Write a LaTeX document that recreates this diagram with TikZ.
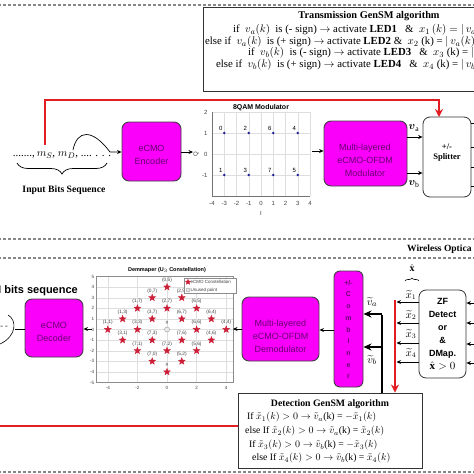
\documentclass[tikz,border=0pt]{standalone}
\usepackage{fontspec}
\setmainfont{Liberation Serif}
\newfontfamily\arial{Liberation Sans}
\usepackage{amsmath}
\usetikzlibrary{arrows.meta,decorations.pathreplacing,shapes.geometric}
\definecolor{mag}{RGB}{250,0,250}
\definecolor{magtxt}{RGB}{105,0,115}
\definecolor{redl}{RGB}{225,30,35}
\definecolor{dashg}{RGB}{135,135,135}
\definecolor{starred}{RGB}{205,30,55}
\definecolor{dotblue}{RGB}{30,30,150}
\definecolor{gridg}{RGB}{222,222,222}
\begin{document}
\begin{tikzpicture}[x=1pt,y=-1pt,
  magbox/.style={draw=black!75,line width=0.9pt,fill=mag,rounded corners=7pt,inner sep=0pt},
  whitebox/.style={draw=black!80,line width=0.8pt,fill=white,rounded corners=7pt,inner sep=0pt},
  plainbox/.style={draw=black!80,line width=0.9pt,fill=white,inner sep=0pt},
  magtext/.style={text=magtxt,font=\arial\fontsize{9}{13}\selectfont,align=center,inner sep=0pt},
  sepline/.style={draw=dashg,line width=1.5pt,dash pattern=on 3pt off 2pt},
  arr/.style={-{Stealth[length=4.5pt,width=4pt]},line width=0.7pt},
  thickarr/.style={-{Stealth[length=8pt,width=7pt]},line width=2pt},
  redline/.style={draw=redl,line width=2.4pt},
  redarr/.style={redline,-{Stealth[length=8pt,width=8pt]}},
  algtext/.style={font=\fontsize{10.8}{12}\selectfont,anchor=west,inner sep=0pt},
  dettext/.style={font=\fontsize{9.8}{12}\selectfont,anchor=west,inner sep=0pt},
  tick/.style={font=\arial\fontsize{6}{7}\selectfont,inner sep=0pt,text=black!75},
  smalltick/.style={font=\arial\fontsize{4.6}{5}\selectfont,inner sep=0pt,text=black!75},
  ptlabel/.style={font=\arial\fontsize{4.8}{5}\selectfont,inner sep=0pt,text=black!75},
  redstar/.style={star,star points=5,star point ratio=2.4,fill=starred,draw=starred,minimum size=7pt,inner sep=0pt},
]
\useasboundingbox (0,0) rectangle (474,474);
\clip (0,0) rectangle (474,474);

% separators
\coordinate (s1l) at (-2,5);   \coordinate (s1r) at (476,5);
\coordinate (s2l) at (-2,239); \coordinate (s2r) at (476,239);
\coordinate (s3l) at (-2,258); \coordinate (s3r) at (476,258);
\coordinate (s4l) at (-2,472); \coordinate (s4r) at (476,472);
\draw[sepline] (s1l) -- (s1r);
\draw[sepline] (s2l) -- (s2r);
\draw[sepline] (s3l) -- (s3r);
\draw[sepline] (s4l) -- (s4r);
\node[font=\bfseries\fontsize{9.5}{11}\selectfont,anchor=west,inner sep=0pt] (wo) at (407,249) {Wireless Optica};

% ---------------- Transmission algorithm box
\node[plainbox,minimum width=277pt,minimum height=84pt] (tx) at (341.5,49) {};
\node[font=\bfseries\fontsize{10.3}{12}\selectfont,inner sep=0pt] (txt0) at (369,16) {Transmission GenSM algorithm};
\node[algtext] (txt1) at (233,30) {if~ $v_a(k)$ ~is (- sign) $\rightarrow$ activate \textbf{LED1} ~~\&~ $x_1\,(k) = |\,v_a(k)\,|$};
\node[algtext] (txt2) at (205,42) {else if~ $v_a(k)$ ~is (+ sign) $\rightarrow$ activate \textbf{LED2} \&~ $x_2$ (k) = $|\,v_a(k)\,|$};
\node[algtext] (txt3) at (248,53) {if~ $v_b(k)$ ~is (- sign) $\rightarrow$ activate \textbf{LED3} ~~\&~ $x_3$ (k) = $|\,v_b(k)\,|$};
\node[algtext] (txt4) at (216,65) {else if~ $v_b(k)$ ~is (+ sign) $\rightarrow$ activate \textbf{LED4} ~~\&~ $x_4$ (k) = $|\,v_b(k)\,|$};

% ---------------- input bits
\node[font=\fontsize{11}{13}\selectfont,inner sep=0pt] (bits) at (62,155) {.......,\,$m_S$, $m_D$, .... . . .};
\draw[decorate,decoration={brace,mirror,amplitude=11pt},line width=0.7pt] (17,163) -- (107,163);
\node[font=\bfseries\fontsize{9.7}{11}\selectfont,inner sep=0pt] (ibs) at (64,190) {Input Bits Sequence};

% ---------------- encoder
\node[magbox,minimum width=59pt,minimum height=59pt] (enc) at (151.5,151.5) {};
\node[magtext] (enct) at (151.5,155) {eCMO\\Encoder};
\coordinate (cstart) at (73,150);
\coordinate (cend) at (110,152);
\draw[arr] (cstart) .. controls (77,130) and (92,128) .. (cend) -- (cend -| enc.west);

% ---------------- 8QAM plot
\begin{scope}[shift={(261,154)},x=12.25pt,y=21pt]
  \foreach \u in {-4,...,4} \draw[gridg,line width=0.4pt] (\u,-2) -- (\u,2);
  \foreach \v in {-2,...,2} \draw[gridg,line width=0.4pt] (-4,\v) -- (4,\v);
  \draw[black!55,line width=0.5pt] (-4,2) -- (-4,-2) -- (4,-2);
  \foreach \u in {-4,...,4} \node[tick] at (\u,-2.35) {\u};
  \foreach \v in {-1,...,2} \node[tick,anchor=east] at (-4.35,\v) {\v};
  \node[tick,rotate=90] (qlab) at (-5.3,0) {Q};
  \node[tick] (ilab) at (0,-2.85) {I};
  \foreach \u/\v/\l in {-3/1/0,-1/1/2,1/1/6,3/1/4,-3/-1/1,-1/-1/3,1/-1/7,3/-1/5}{
    \fill[dotblue] (\u,\v) circle[radius=1.3pt];
    \node[tick,text=black] at ([xshift=-3.5pt,yshift=5pt]\u,\v) {\l};
  }
  \node[font=\arial\bfseries\fontsize{7}{8}\selectfont,inner sep=0pt] (qamt) at (0,2.2) {8QAM Modulator};
\end{scope}
\coordinate (qamin) at (193,152);
\draw[arr] (enc.east |- qamin) -- (qamin);
\coordinate (qamout) at (312,151);

% ---------------- modulator
\node[magbox,minimum width=83pt,minimum height=65pt] (mod) at (365.5,153.5) {};
\node[magtext] (modt) at (365,160) {Multi-layered\\eCMO-OFDM\\Modulator};
\draw[arr] (qamout) -- (qamout -| mod.west);

% ---------------- splitter
\node[whitebox,minimum width=48pt,minimum height=80pt] (split) at (447,157) {};
\node[font=\bfseries\fontsize{8.5}{10}\selectfont,align=center,inner sep=0pt] (splitt) at (447,153) {+/-\\Splitter};
\coordinate (vay) at (415,137);
\coordinate (vby) at (415,173);
\draw[arr] (mod.east |- vay) -- (vay -| split.west);
\draw[arr] (mod.east |- vby) -- (vby -| split.west);
\node[inner sep=0pt,font=\fontsize{11}{12}\selectfont] (val) at (414,128) {$\boldsymbol{v}_{\mathrm{a}}$};
\node[inner sep=0pt,font=\fontsize{11}{12}\selectfont] (vbl) at (414,184) {$\boldsymbol{v}_{\mathrm{b}}$};
\foreach \yy in {123,147,167,186}{
  \coordinate (so) at (476,\yy);
  \draw[line width=0.7pt] (so -| split.east) -- (so);
}

% red feedback top
\coordinate (redstart) at (45,145);
\coordinate (redcorner) at (439,100);
\coordinate (redin) at (439,117);
\draw[redarr] (redstart) |- (redcorner) -- (redin);

% ---------------- bottom section
\node[font=\arial\bfseries\fontsize{11}{12}\selectfont,anchor=east,inner sep=0pt] (bseq) at (78,291) {M bits sequence};

\node[magbox,minimum width=58pt,minimum height=58pt] (dec) at (54,328) {};
\node[magtext] (dect) at (54,332) {eCMO\\Decoder};
\coordinate (decl) at (15,329);
\draw[line width=0.6pt] (8,315) .. controls (17,320) and (17,336) .. (0,344);
\node[inner sep=0pt,font=\fontsize{8}{9}\selectfont] (dd) at (4,327) {- -};
\draw[line width=0.6pt] (decl) -- (decl -| dec.west);

% ---------------- Demapper plot
\begin{scope}[shift={(167,329.5)},x=14.8pt,y=10.6pt]
  \fill[white] (-4.75,-5) rectangle (4.5,5);
  \foreach \u in {-4,-2,0,2,4} \draw[gridg,line width=0.4pt] (\u,-5) -- (\u,5);
  \foreach \v in {-5,...,5} \draw[gridg,line width=0.4pt] (-4.75,\v) -- (4.5,\v);
  \draw[black!45,line width=0.5pt] (-4.75,-5) rectangle (4.5,5);
  \foreach \u in {-4,-2,0,2,4} \node[smalltick] at (\u,-5.55) {\u};
  \foreach \v in {-5,...,5} \node[smalltick,anchor=east] at (-4.9,\v) {\v};
  \node[font=\arial\bfseries\fontsize{5.5}{6}\selectfont,inner sep=0pt] (dmt) at (0,5.6) {Demmaper (U$_{3}$ Constellation)};
  \foreach \u/\v/\l in {0/4/{(0,5)},-1/3/{(0,7)},1/3/{(2,5)},-2/2/{(1,7)},0/2/{(2,7)},2/2/{(6,5)},
     -3/1/{(1,3)},-1/1/{(3,7)},1/1/{(6,7)},3/1/{(6,4)},-4/0/{(1,1)},-2/0/{(3,3)},2/0/{(6,6)},4/0/{(4,4)},
     -3/-1/{(3,1)},-1/-1/{(7,3)},1/-1/{(7,6)},3/-1/{(4,6)},-2/-2/{(7,1)},0/-2/{(7,2)},2/-2/{(5,6)},
     -1/-3/{(7,0)},1/-3/{(5,2)},0/-4/{\#}}{
    \node[redstar] at (\u,\v) {};
    \node[ptlabel] at ([yshift=6.9pt]\u,\v) {\l};
  }
  \draw[black!40,line width=0.4pt,fill=gridg!60] (0,0) circle[radius=2.5pt];
  \node[ptlabel] at ([yshift=6.7pt]0,0) {\#};
\end{scope}
% legend
\node[draw=black!45,line width=0.4pt,fill=white,minimum width=52pt,minimum height=15pt,inner sep=0pt] (leg) at (210,286) {};
\node[redstar,minimum size=5.5pt] (legs) at (188,282) {};
\node[ptlabel,font=\arial\fontsize{4.5}{5}\selectfont,anchor=west] (legt1) at (190.5,282) {eCMO Constellation};
\draw[black!40,line width=0.4pt,fill=gridg!60] (188,290) circle[radius=2pt];
\node[ptlabel,font=\arial\fontsize{4.5}{5}\selectfont,anchor=west] (legt2) at (190.5,290) {Unused point};

\coordinate (dmpr) at (233,329);
\coordinate (dmpl) at (92,329);
\draw[arr] (dmpl) -- (dmpl -| dec.east);

% ---------------- demodulator
\node[magbox,minimum width=77pt,minimum height=64pt] (demod) at (280.5,329) {};
\node[magtext] (demodt) at (280.5,336) {Multi-layered\\eCMO-OFDM\\Demodulator};
\draw[arr] (demod.west) -- (dmpr);

% ---------------- combiner
\node[magbox,minimum width=29pt,minimum height=116pt,rounded corners=6pt] (comb) at (348.5,329) {};
\node[text=magtxt,font=\arial\bfseries\fontsize{7}{11.7}\selectfont,align=center,inner sep=0pt] (combt) at (348.5,329.5) {+/-\\C\\o\\m\\b\\i\\n\\e\\r};
\coordinate (cd) at (334,330);
\draw[arr] (cd) -- (cd -| demod.east);

% ---------------- detection box
\node[plainbox,minimum width=184pt,minimum height=75pt] (det) at (330,430.5) {};
\node[font=\bfseries\fontsize{9.8}{11}\selectfont,inner sep=0pt] (dett) at (330,404) {Detection GenSM algorithm};
\node[dettext] (det1) at (247,417) {If $\tilde{x}_1(k) > 0 \rightarrow \tilde{v}_a$(k) = $-\tilde{x}_1(k)$};
\node[dettext] (det2) at (245,431) {else If $\tilde{x}_2(k) > 0 \rightarrow \tilde{v}_a$(k) = $\tilde{x}_2(k)$};
\node[dettext] (det3) at (249,445) {If $\tilde{x}_3(k) > 0 \rightarrow \tilde{v}_b$(k) = $-\tilde{x}_3(k)$};
\node[dettext] (det4) at (252,458) {else If $\tilde{x}_4(k) > 0 \rightarrow \tilde{v}_b$(k) = $\tilde{x}_4(k)$};

\coordinate (redleft) at (-2,426);
\draw[redline] (redleft) -- (redleft -| det.west);

% black thick combiner inputs
\coordinate (btop) at (382,314);
\coordinate (bmid) at (382,347);
\draw[line width=2.2pt] (btop |- det.north) -- ([yshift=-1.1pt]btop);
\draw[thickarr] (btop) -- (btop -| comb.east);
\draw[thickarr] (bmid) -- (bmid -| comb.east);
\node[inner sep=0pt,font=\fontsize{11}{12}\selectfont] (vtal) at (372,302) {$\widetilde{v}_a$};
\node[inner sep=0pt,font=\fontsize{11}{12}\selectfont] (vtbl) at (372,360) {$\widetilde{v}_b$};

% ---------------- ZF box
\node[whitebox,minimum width=47pt,minimum height=88pt] (zf) at (442.5,334) {};
\node[font=\arial\bfseries\fontsize{9}{13}\selectfont,align=center,inner sep=0pt] (zft) at (442.5,334.5) {ZF\\Detect\\or\\\&\\DMap.\\\textnormal{\fontsize{11}{13}\selectfont$\hat{\mathbf{x}} > 0$}};

\coordinate (rtop) at (395,300);
\draw[redarr] (rtop) -- (rtop |- det.north);
\foreach \yy/\i/\ly in {302/1/295,323/2/315,343/3/334,362/4/353}{
  \coordinate (rl) at (396.5,\yy);
  \draw[arr] (rl -| zf.west) -- (rl);
  \node[inner sep=0pt,font=\fontsize{10.5}{12}\selectfont] at (411,\ly) {$\widetilde{x}_\i$};
}
\node[inner sep=0pt,font=\fontsize{10}{12}\selectfont] (xhat) at (412,268) {$\hat{\mathbf{x}}$};
\draw[decorate,decoration={brace,amplitude=3pt},line width=0.6pt] (405,281) -- (419,281);
\foreach \yy in {303,323,344,363}{
  \coordinate (zi) at (476,\yy);
  \draw[arr] (zi) -- (zi -| zf.east);
}
\end{tikzpicture}
\end{document}
